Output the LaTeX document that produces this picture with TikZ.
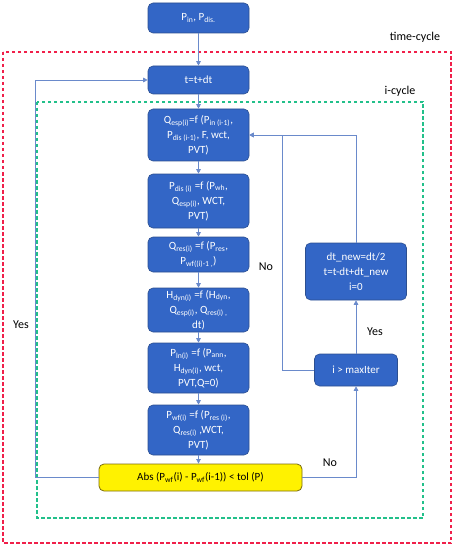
\documentclass[tikz,border=0pt]{standalone}
\usepackage{fontspec}
\setmainfont{Carlito}
\usetikzlibrary{arrows.meta}
\newcommand{\lo}[1]{\textsubscript{#1}}
\definecolor{boxblue}{HTML}{3366C6}
\definecolor{boxedge}{HTML}{2C4F90}
\definecolor{linec}{HTML}{6A8ACB}
\definecolor{redd}{HTML}{F0204A}
\definecolor{greend}{HTML}{22C08A}
\definecolor{yedge}{HTML}{7A6A10}
\tikzset{
  stepbox/.style={draw=boxedge, line width=0.6pt, fill=boxblue, rounded corners=5pt,
    text=white, align=center, inner sep=1pt, font=\fontsize{11}{15}\selectfont},
  ybox/.style={draw=yedge, line width=0.8pt, fill=yellow, rounded corners=5pt,
    text=black, align=center, inner sep=1pt, font=\fontsize{11}{15}\selectfont},
  conn/.style={draw=linec, line width=0.7pt},
  arr/.style={conn, -{Triangle[length=4.5pt,width=4.5pt]}},
  lbl/.style={font=\fontsize{12}{14}\selectfont, text=black},
  frame/.style={line width=1.1pt, dash pattern=on 3.5pt off 2.5pt},
}
\begin{document}
\begin{tikzpicture}[x=1pt,y=-1pt]
\useasboundingbox (0,0) rectangle (454,548);
% cycle frames
\draw[frame, redd] (3,52) rectangle (451,543);
\draw[frame, greend] (37,102) rectangle (423,518);
\node[lbl] (tc) at (415,37) {time-cycle};
\node[lbl] (ic) at (400,91) {i-cycle};
% boxes
\node[stepbox, minimum width=101pt, minimum height=30pt] (pin) at (198.5,18) {P\lo{in}, P\lo{dis.}};
\node[stepbox, minimum width=101pt, minimum height=28pt] (tb) at (198.5,80) {t=t+dt};
\node[stepbox, minimum width=101pt, minimum height=52pt] (qesp) at (198.5,135) {Q\lo{esp(i)}=f (P\lo{in (i-1)},\\P\lo{dis (i-1)}, F, wct,\\PVT)};
\node[stepbox, minimum width=101pt, minimum height=54pt] (pdis) at (198.5,201) {P\lo{dis (i)} =f (P\lo{wh},\\Q\lo{esp(i)}, WCT,\\PVT)};
\node[stepbox, minimum width=101pt, minimum height=35pt] (qres) at (198.5,254.5) {Q\lo{res(i)} =f (P\lo{res},\\P\lo{wf((i)-1 ,})};
\node[stepbox, minimum width=101pt, minimum height=44pt] (hdyn) at (198.5,310) {H\lo{dyn(i)} =f (H\lo{dyn},\\Q\lo{esp(i)}, Q\lo{res(i) ,}\\dt)};
\node[stepbox, minimum width=101pt, minimum height=50pt] (pln) at (198.5,368) {P\lo{ln(i)} =f (P\lo{ann},\\H\lo{dyn(i)}, wct,\\PVT,Q=0)};
\node[stepbox, minimum width=101pt, minimum height=50pt] (pwf) at (198.5,430) {P\lo{wf(i)} =f (P\lo{res (i)},\\Q\lo{res(i)} ,WCT,\\PVT)};
\node[ybox, minimum width=203pt, minimum height=27pt] (abs) at (200.5,477.5) {Abs (P\lo{wf}(i) - P\lo{wf}(i-1)) < tol (P)};
\node[stepbox, minimum width=83pt, minimum height=32pt] (maxit) at (356,370) {i > maxIter};
\node[stepbox, minimum width=101pt, minimum height=57pt] (dtn) at (356,271.5) {dt\_new=dt/2\\t=t-dt+dt\_new\\i=0};
% main chain
\draw[arr] (pin) -- (tb);
\draw[arr] (tb) -- (qesp);
\draw[arr] (qesp) -- (pdis);
\draw[arr] (pdis) -- (qres);
\draw[arr] (qres) -- (hdyn);
\draw[arr] (hdyn) -- (pln);
\draw[arr] (pln) -- (pwf);
\draw[arr] (pwf.south) -- (abs.north -| pwf.south);
% Yes loop to time step
\coordinate (yl) at (35,477.5);
\coordinate (yt) at (35,80);
\draw[arr] (abs.west) -- (yl) -- (yt) -- (tb.west);
\node[lbl] (yes1) at (21,325) {Yes};
% No: to maxIter
\coordinate (nb) at (356,477.5);
\draw[arr] (abs.east) -- (nb) -- (maxit.south);
\node[lbl] (no1) at (330,463) {No};
% Yes: maxIter -> dt_new
\draw[arr] (maxit.north) -- (dtn.south);
\node[lbl] (yes2) at (375,332) {Yes};
% dt_new back to Q_esp
\coordinate (rt) at (356,135);
\draw[arr] (dtn.north) -- (rt) -- (qesp.east);
% No: maxIter back to Q_esp
\coordinate (nl) at (282,370);
\coordinate (nt) at (282,135);
\draw[arr] (maxit.west) -- (nl) -- (nt) -- (qesp.east);
\node[lbl] (no2) at (266,267) {No};
\end{tikzpicture}
\end{document}
